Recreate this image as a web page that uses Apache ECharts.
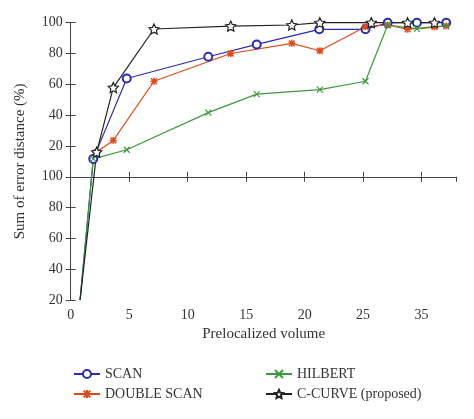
<!DOCTYPE html>
<html><head><meta charset="utf-8">
<script src="https://cdn.jsdelivr.net/npm/echarts@6/dist/echarts.min.js"></script>
<style>html,body{margin:0;padding:0;background:#fff}#c{width:474px;height:419px}</style>
</head><body><div id="c"></div>
<script>
const scanX=[0.8,1.93,4.79,11.76,15.9,21.25,25.2,27.1,29.6,32.1];
const scanY=[-80,11.6,63.8,77.9,85.9,95.7,95.7,100,100,100];
const dsX=[2.22,3.64,7.12,13.68,18.9,21.3,25.2,27.1,28.8,31.1,32.1];
const dsY=[16,23.6,62,80,86.6,81.8,97.4,98.5,95.7,97.4,97.8];
const hilX=[0.8,1.93,4.79,11.76,15.9,21.3,25.2,27.1,29.6,32.1];
const hilY=[-80,11.6,17.5,41.6,53.6,56.6,62,98.5,96,98];
const ccX=[2.22,3.64,7.12,13.68,18.9,21.3,25.7,28.8,31.1];
const ccY=[16,57.9,95.9,97.8,98.5,100,100,100,100];
const font='Liberation Serif';
function pts(xs,ys){return xs.map((x,i)=>{const p={value:[x,ys[i]]};if(ys[i]<=-80)p.symbol='none';return p;});}
const star='path://M0,-10L2.9,-4L9.5,-3.1L4.7,1.5L5.9,8.1L0,5L-5.9,8.1L-4.7,1.5L-9.5,-3.1L-2.9,-4Z';
const ax={axisLine:{lineStyle:{color:'#444'}},axisTick:{inside:true,length:5,lineStyle:{color:'#444'}},splitLine:{show:false}};
const chart=echarts.init(document.getElementById('c'));
chart.setOption({
 animation:false,
 grid:{left:70.7,right:17.3,top:22.7,bottom:119},
 xAxis:[Object.assign({type:'value',min:0,max:33,interval:5,
  name:'Prelocalized volume',nameLocation:'middle',nameGap:26,
  nameTextStyle:{fontFamily:font,fontSize:15,color:'#333'},
  axisLabel:{fontFamily:font,fontSize:14,color:'#333',showMaxLabel:false,formatter:v=>v===30?'35':String(v)}},ax),
  Object.assign({type:'value',min:0,max:33,interval:5,position:'top',axisLabel:{show:false}},ax)],
 yAxis:[Object.assign({type:'value',min:-80,max:100,interval:20,
  name:'Sum of error distance (%)',nameLocation:'middle',nameGap:43,
  nameTextStyle:{fontFamily:font,fontSize:15,color:'#333'},
  axisLabel:{fontFamily:font,fontSize:14,color:'#333',formatter:v=>String(v<=0?v+100:v)}},ax),
  Object.assign({type:'value',min:-80,max:100,interval:20,position:'right',axisLabel:{show:false}},ax)],
 legend:[
  {data:['SCAN','DOUBLE SCAN'],orient:'vertical',left:68,top:362,itemGap:6,itemWidth:26,itemHeight:10,
   textStyle:{fontFamily:font,fontSize:14,color:'#333'}},
  {data:['HILBERT','C-CURVE (proposed)'],orient:'vertical',left:260,top:362,itemGap:6,itemWidth:26,itemHeight:10,
   textStyle:{fontFamily:font,fontSize:14,color:'#333'}}],
 series:[
  {name:'SCAN',type:'line',data:pts(scanX,scanY),color:'#2b2bb0',symbol:'emptyCircle',symbolSize:8,lineStyle:{width:1.2,color:'#2b2bb0'}},
  {name:'DOUBLE SCAN',type:'line',data:pts(dsX,dsY),color:'#e04a1a',symbol:'path://M-5,-5L5,5M5,-5L-5,5M0,-6L0,6M-6,0L6,0',symbolSize:7,itemStyle:{color:'#e04a1a',borderColor:'#e04a1a',borderWidth:1.5},lineStyle:{width:1.2,color:'#e04a1a'}},
  {name:'HILBERT',type:'line',data:pts(hilX,hilY),color:'#3a9a3a',symbol:'path://M-5,-5L5,5M5,-5L-5,5',symbolSize:6,itemStyle:{color:'#3a9a3a',borderColor:'#3a9a3a',borderWidth:1.2},lineStyle:{width:1.2,color:'#3a9a3a'}},
  {name:'C-CURVE (proposed)',type:'line',data:[{value:[0.8,-80],symbol:'none'}].concat(pts(ccX,ccY)),color:'#222',symbol:star,symbolSize:10,itemStyle:{color:'#fff',borderColor:'#222',borderWidth:1.2},lineStyle:{width:1.2,color:'#222'}}
 ]
});
</script></body></html>
